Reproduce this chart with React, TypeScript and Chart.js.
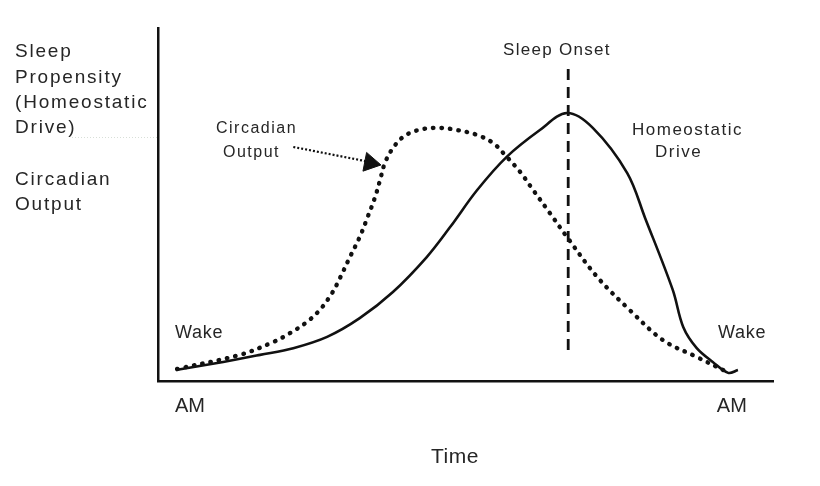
import { useEffect, useRef } from "react";
import { Chart, registerables } from "chart.js";

Chart.register(...registerables);

// ---- Data (x: relative time from AM to AM, 0-100; y: relative level, 0-100) ----
const homeostaticTime = [2.9, 10.6, 16.6, 22.0, 27.5, 32.8, 38.2, 43.7, 47.5, 51.9, 56.7, 62.1, 66.5, 70.7, 76.3, 79.2, 83.7, 85.4, 87.6, 90.2, 92.7, 94.3];
const homeostaticDrive = [3.1, 5.4, 7.4, 9.3, 12.5, 17.8, 25.2, 35.1, 43.6, 54.1, 63.5, 71.1, 75.9, 71.7, 58.9, 46.2, 25.8, 15.3, 9.3, 5.4, 2.3, 3.1];

const circadianTime = [3.1, 13.3, 18.7, 21.5, 24.2, 26.3, 28.3, 29.6, 31.2, 32.8, 34.1, 35.3, 36.1, 36.9, 38.2, 39.8, 41.0, 43.1, 45.9, 48.6, 51.9, 54.5, 56.7, 58.9, 61.0, 63.7, 66.5, 71.4, 76.7, 82.1, 87.6, 91.9];
const circadianOutput = [3.4, 7.4, 11.0, 13.6, 16.7, 20.1, 24.9, 29.2, 35.1, 40.8, 46.5, 52.1, 56.9, 61.8, 66.0, 69.1, 70.3, 71.4, 71.7, 71.1, 69.7, 67.4, 63.5, 59.2, 54.1, 47.6, 40.8, 29.5, 20.1, 11.6, 6.8, 3.1];

const sleepOnsetTime = [66.7, 66.7];
const sleepOnsetLevel = [8.8, 90.1];

const arrowTime = [22.0, 33.7];
const arrowLevel = [66.3, 62.3];
const arrowHeadTime = [34.5];
const arrowHeadLevel = [61.8];

const tickPositions = [5.2, 93.3];
const tickLabels = ["AM", "AM"];

const TEXT_COLOR = "#262626";
const FONT = '"Liberation Sans", Arial, sans-serif';

type Label = { text: string; x: number; y: number; size: number; ls: number; align: CanvasTextAlign };
const labels: Label[] = [
  { text: "Sleep", x: 15, y: 57, size: 19, ls: 1.8, align: "left" },
  { text: "Propensity", x: 15, y: 82.5, size: 19, ls: 1.8, align: "left" },
  { text: "(Homeostatic", x: 15, y: 107.5, size: 19, ls: 1.8, align: "left" },
  { text: "Drive)", x: 15, y: 133, size: 19, ls: 1.8, align: "left" },
  { text: "Circadian", x: 15, y: 185, size: 19, ls: 1.8, align: "left" },
  { text: "Output", x: 15, y: 209.5, size: 19, ls: 1.8, align: "left" },
  { text: "Circadian", x: 216, y: 133, size: 16, ls: 1.5, align: "left" },
  { text: "Output", x: 223, y: 157, size: 16, ls: 1.5, align: "left" },
  { text: "Sleep Onset", x: 503, y: 55, size: 17, ls: 1.3, align: "left" },
  { text: "Homeostatic", x: 632, y: 135, size: 17, ls: 1.5, align: "left" },
  { text: "Drive", x: 655, y: 157, size: 17, ls: 1.5, align: "left" },
  { text: "Wake", x: 175, y: 338, size: 18, ls: 0.7, align: "left" },
  { text: "Wake", x: 718, y: 338, size: 18, ls: 0.7, align: "left" },
  { text: "Time", x: 455, y: 463, size: 21, ls: 0.5, align: "center" },
];

const toPoints = (xs: number[], ys: number[]) => xs.map((x, i) => ({ x, y: ys[i] }));

const labelPlugin = {
  id: "freeLabels",
  afterDraw(chart: any) {
    const ctx: CanvasRenderingContext2D = chart.ctx;
    ctx.save();
    // faint guide next to the y-axis label
    ctx.strokeStyle = "rgba(200,210,200,0.7)";
    ctx.lineWidth = 1;
    ctx.setLineDash([1, 2]);
    ctx.beginPath();
    ctx.moveTo(72, 137.5);
    ctx.lineTo(157, 137.5);
    ctx.stroke();
    ctx.setLineDash([]);
    ctx.fillStyle = TEXT_COLOR;
    ctx.textBaseline = "alphabetic";
    for (const l of labels) {
      ctx.font = `${l.size}px ${FONT}`;
      (ctx as any).letterSpacing = `${l.ls}px`;
      ctx.textAlign = l.align;
      ctx.fillText(l.text, l.x, l.y);
    }
    ctx.restore();
  },
};

export default function App() {
  const ref = useRef<HTMLCanvasElement | null>(null);

  useEffect(() => {
    if (!ref.current) return;
    const chart = new Chart(ref.current, {
      type: "scatter",
      data: {
        datasets: [
          {
            label: "Homeostatic Drive",
            data: toPoints(homeostaticTime, homeostaticDrive),
            showLine: true,
            borderColor: "#111",
            borderWidth: 2.6,
            pointRadius: 0,
            tension: 0.35,
          },
          {
            label: "Circadian Output",
            data: toPoints(circadianTime, circadianOutput),
            showLine: true,
            borderColor: "#111",
            borderWidth: 4.4,
            borderDash: [0.5, 8],
            borderCapStyle: "round",
            pointRadius: 0,
            tension: 0.35,
          },
          {
            label: "Sleep Onset",
            data: toPoints(sleepOnsetTime, sleepOnsetLevel),
            showLine: true,
            borderColor: "#111",
            borderWidth: 2.8,
            borderDash: [11, 7],
            pointRadius: 0,
          },
          {
            label: "arrow",
            data: toPoints(arrowTime, arrowLevel),
            showLine: true,
            borderColor: "#111",
            borderWidth: 2.2,
            borderDash: [2, 2],
            pointRadius: 0,
          },
          {
            label: "arrowhead",
            data: toPoints(arrowHeadTime, arrowHeadLevel),
            showLine: false,
            pointStyle: "triangle",
            pointRadius: 11,
            rotation: 101,
            backgroundColor: "#111",
            borderColor: "#111",
            borderWidth: 1,
          },
        ],
      },
      options: {
        animation: false,
        responsive: false,
        devicePixelRatio: 1,
        layout: { padding: { left: 158, right: 47, top: 28, bottom: 55 } },
        plugins: { legend: { display: false }, tooltip: { enabled: false }, title: { display: false } },
        scales: {
          x: {
            type: "linear",
            min: 0,
            max: 100,
            grid: { display: false, drawTicks: false },
            border: { display: true, color: "#111", width: 2.5 },
            afterBuildTicks: (scale: any) => {
              scale.ticks = tickPositions.map((v) => ({ value: v }));
            },
            ticks: {
              autoSkip: false,
              maxRotation: 0,
              padding: 13,
              color: TEXT_COLOR,
              font: { family: FONT, size: 20 },
              callback: (_v: any, i: number) => tickLabels[i],
            },
          },
          y: {
            type: "linear",
            min: 0,
            max: 100,
            grid: { display: false, drawTicks: false },
            border: { display: true, color: "#111", width: 2.5 },
            ticks: { display: false },
          },
        },
      },
      plugins: [labelPlugin],
    });
    return () => chart.destroy();
  }, []);

  return (
    <div style={{ position: "absolute", left: 0, top: 0, width: 820, height: 486, background: "#fff" }}>
      <canvas ref={ref} width={820} height={486} style={{ display: "block", width: 820, height: 486 }} />
    </div>
  );
}
